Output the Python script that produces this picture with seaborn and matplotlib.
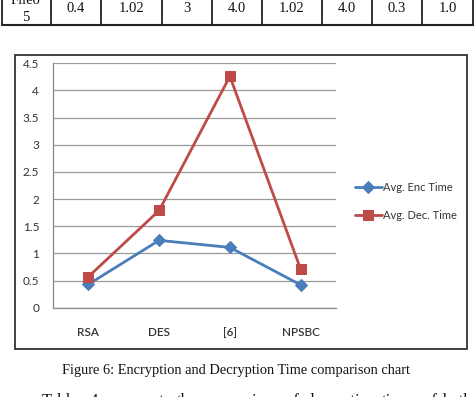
import numpy as np
import pandas as pd
import matplotlib
matplotlib.use("Agg")
import matplotlib.pyplot as plt
import seaborn as sns
from matplotlib.patches import Rectangle
from matplotlib.ticker import FuncFormatter

# ---------------------------------------------------------
# DATA
# ---------------------------------------------------------

categories = ["RSA", "DES", "[6]", "NPSBC"]
enc_time = [0.43, 1.24, 1.11, 0.42]
dec_time = [0.57, 1.79, 4.26, 0.71]
series_names = ["Avg. Enc Time", "Avg. Dec. Time"]
y_ticks = [0, 0.5, 1, 1.5, 2, 2.5, 3, 3.5, 4, 4.5]

# last row of the table above the chart (cut off at the top)
row_head_top = "Fileo"
row_head_bottom = "5"
row_values = ["0.4", "1.02", "3", "4.0", "1.02", "4.0", "0.3", "1.0"]

caption = "Figure 6: Encryption and Decryption Time comparison chart"
body_text = "Table- 4 represents the comparison of decryption times of both"

df = pd.DataFrame({
    "Algorithm": categories * 2,
    "Time": enc_time + dec_time,
    "Series": [series_names[0]] * len(categories) + [series_names[1]] * len(categories),
})

# ---------------------------------------------------------
# STYLE
# ---------------------------------------------------------

sns.set_style("white")
plt.rcParams["font.family"] = ["Lato", "DejaVu Sans"]

W, H = 474, 397
fig = plt.figure(figsize=(W / 100, H / 100), dpi=100)
fig.patch.set_facecolor("white")

# page layer in pixel coordinates (table row, chart frame, caption)
page = fig.add_axes([0, 0, 1, 1], zorder=0)
page.set_xlim(0, W)
page.set_ylim(H, 0)
page.axis("off")

serif = ["Liberation Serif", "DejaVu Serif"]
col_edges = [2, 51, 101, 162, 212, 262, 322, 372, 422, 473]
for x in col_edges:
    page.plot([x, x], [0, 25], color="#222222", lw=1.3)
page.plot([col_edges[0], col_edges[-1]], [25, 25], color="#222222", lw=1.5)

page.text(26, 4, row_head_top, family=serif, fontsize=10.5, ha="center",
          va="baseline", color="#111111")
page.text(26, 21, row_head_bottom, family=serif, fontsize=10.5, ha="center",
          va="baseline", color="#111111")
for i, val in enumerate(row_values):
    cx = (col_edges[i + 1] + col_edges[i + 2]) / 2
    page.text(cx, 12.5, val, family=serif, fontsize=10.5, ha="center",
              va="baseline", color="#111111")

page.add_patch(Rectangle((15, 55), 452, 294, fill=False, ec="#333333", lw=1.3))

page.text(236, 374, caption, family=serif, fontsize=10.4, ha="center",
          va="baseline", color="#111111")

# justified body line, only its top shows at the bottom edge
renderer = fig.canvas.get_renderer()
words = body_text.split()
word_texts = [page.text(0, 405, w, family=serif, fontsize=12, ha="left",
                        va="baseline", color="#111111") for w in words]
widths = [t.get_window_extent(renderer).width for t in word_texts]
left, right = 42, 473
gap = (right - left - sum(widths)) / (len(words) - 1)
x = left
for t, w in zip(word_texts, widths):
    t.set_x(x)
    x += w + gap

# ---------------------------------------------------------
# LINE CHART
# ---------------------------------------------------------

ax = fig.add_axes([53 / W, 1 - 307.7 / H, (336 - 53) / W, (307.7 - 63.3) / H],
                  zorder=1)
ax.patch.set_alpha(0)

sns.lineplot(
    data=df, x="Algorithm", y="Time",
    hue="Series", style="Series",
    markers=["D", "s"], dashes=False,
    palette=["#4A7EBB", "#BE4B48"],
    linewidth=2.0, markersize=7,
    sort=False, legend=False, ax=ax,
)

for line in ax.lines:
    line.set_markeredgecolor(line.get_color())
ax.lines[0].set_markersize(6)

ax.set_ylim(0, 4.5)
ax.set_yticks(y_ticks)
ax.yaxis.set_major_formatter(FuncFormatter(lambda v, p: f"{v:g}"))
ax.yaxis.grid(True, color="#9a9a9a", lw=0.9)
ax.set_axisbelow(True)

ax.set_xlim(-0.5, len(categories) - 0.5)
ax.set_xticks(np.arange(len(categories) + 1) - 0.5)
ax.set_xticklabels([])
ax.set_xticks(range(len(categories)), labels=categories, minor=True)
ax.tick_params(axis="x", which="major", length=4, color="#888888", width=0.9)
ax.tick_params(axis="x", which="minor", length=0, pad=14, labelsize=8.5,
               labelcolor="#333333")
ax.tick_params(axis="y", length=4, color="#888888", width=0.9, pad=6,
               labelsize=8.5, labelcolor="#333333")
for lab in ax.get_xticklabels(minor=True):
    lab.set_fontweight("semibold")

ax.set_xlabel("")
ax.set_ylabel("")
for side in ["top", "right"]:
    ax.spines[side].set_visible(False)
for side in ["left", "bottom"]:
    ax.spines[side].set_color("#888888")
    ax.spines[side].set_linewidth(0.9)

ax.legend(ax.lines[:2], series_names,
          loc="upper left", bbox_to_anchor=(355 / W, 1 - 182 / H),
          bbox_transform=fig.transFigure, frameon=False,
          borderpad=0, borderaxespad=0, handletextpad=0.1,
          handlelength=2.4, labelspacing=1.5, fontsize=8,
          labelcolor="#333333")

fig.savefig("out.png", dpi=100, facecolor="white")
